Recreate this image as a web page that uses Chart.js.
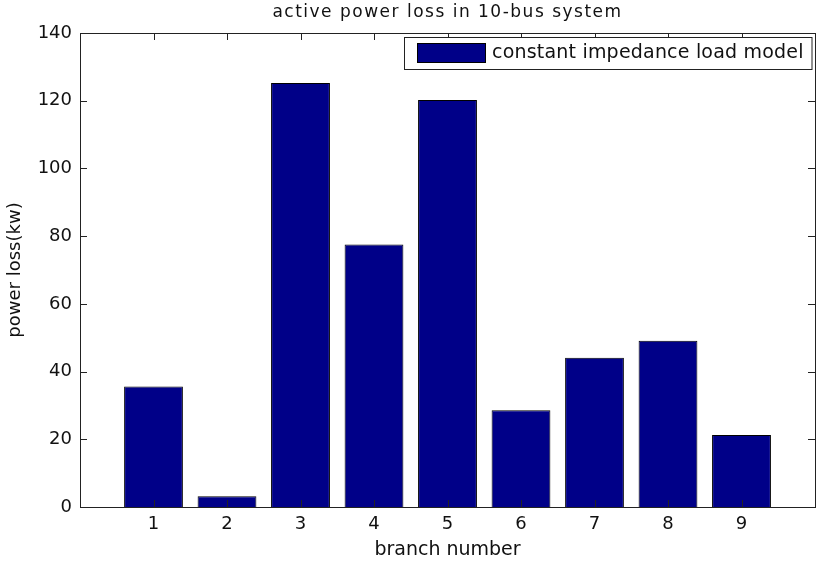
<!DOCTYPE html>
<html>
<head>
<meta charset="utf-8">
<script src="https://cdn.jsdelivr.net/npm/chart.js@4.4.0/dist/chart.umd.min.js"></script>
<style>
html, body { margin: 0; padding: 0; background: #fff; }
#wrap { width: 835px; height: 561px; }
</style>
</head>
<body>
<div id="wrap"><canvas id="chart"></canvas></div>
<script>
// data
const branches = [1, 2, 3, 4, 5, 6, 7, 8, 9];
const powerLoss = [35.6, 3.2, 125.2, 77.5, 120.2, 28.6, 44.1, 49.1, 21.3];
const seriesName = 'constant impedance load model';
const chartTitle = 'active power loss in 10-bus system';
const xTitle = 'branch number';
const yTitle = 'power loss(kw)';

const FONT = 'DejaVu Sans';
const TXT = '#111';

// matlab style box, inward ticks, title and legend
const matlabBox = {
    id: 'matlabBox',
    afterDraw(chart) {
        const ctx = chart.ctx;
        const a = chart.chartArea;
        const xs = chart.scales.x;
        const ys = chart.scales.y;
        ctx.save();
        ctx.strokeStyle = '#222';
        ctx.lineWidth = 1;
        ctx.strokeRect(Math.round(a.left) + 0.5, Math.round(a.top) + 0.5,
            Math.round(a.right - a.left), Math.round(a.bottom - a.top));

        ctx.beginPath();
        branches.forEach(b => {
            const px = Math.round(xs.getPixelForValue(b)) + 0.5;
            ctx.moveTo(px, a.bottom); ctx.lineTo(px, a.bottom - 7);
            ctx.moveTo(px, a.top); ctx.lineTo(px, a.top + 7);
        });
        ys.ticks.forEach(t => {
            const py = Math.round(ys.getPixelForValue(t.value)) + 0.5;
            ctx.moveTo(a.left, py); ctx.lineTo(a.left + 7, py);
            ctx.moveTo(a.right, py); ctx.lineTo(a.right - 7, py);
        });
        ctx.stroke();

        // title
        ctx.fillStyle = TXT;
        ctx.font = '17px "' + FONT + '"';
        ctx.letterSpacing = '1.5px';
        ctx.textAlign = 'center';
        ctx.textBaseline = 'middle';
        ctx.fillText(chartTitle, (a.left + a.right) / 2, a.top - 20);

        // legend
        ctx.font = '19px "' + FONT + '"';
        ctx.letterSpacing = '0.2px';
        const tw = ctx.measureText(seriesName).width;
        const right = Math.round(a.right) - 3.5;
        const top = Math.round(a.top) + 4.5;
        const left = Math.round(right - (tw + 13 + 68 + 7 + 8));
        const ds = chart.data.datasets[0];
        ctx.fillStyle = '#fff';
        ctx.fillRect(left, top, right - left, 32);
        ctx.strokeStyle = '#222';
        ctx.strokeRect(left + 0.5, top, right - left, 32);
        ctx.fillStyle = ds.backgroundColor;
        ctx.fillRect(left + 13.5, top + 6, 68, 19);
        ctx.strokeStyle = '#000';
        ctx.strokeRect(left + 13.5, top + 6, 68, 19);
        ctx.fillStyle = TXT;
        ctx.textAlign = 'left';
        ctx.fillText(seriesName, left + 13 + 68 + 7, top + 16);
        ctx.restore();
    }
};

const ctx = document.getElementById('chart').getContext('2d');
const chart = new Chart(ctx, {
    type: 'bar',
    data: {
        datasets: [{
            label: seriesName,
            data: branches.map((b, i) => ({ x: b, y: powerLoss[i] })),
            backgroundColor: '#000088',
            borderColor: '#000',
            borderWidth: 1,
            barPercentage: 0.8,
            categoryPercentage: 1
        }]
    },
    options: {
        responsive: true,
        maintainAspectRatio: false,
        animation: false,
        layout: { padding: { top: 33, right: 20, bottom: 0, left: 0 } },
        plugins: {
            legend: { display: false },
            title: { display: false },
            tooltip: { enabled: false }
        },
        scales: {
            x: {
                type: 'linear',
                min: 0,
                max: 10,
                offset: false,
                grid: { display: false, drawTicks: false },
                border: { display: false },
                ticks: {
                    stepSize: 1,
                    autoSkip: false,
                    maxRotation: 0,
                    padding: 7,
                    color: TXT,
                    font: { family: FONT, size: 18 },
                    callback: v => (v >= 1 && v <= 9) ? v : ''
                },
                title: {
                    display: true,
                    text: xTitle,
                    color: TXT,
                    font: { family: FONT, size: 19 },
                    padding: { top: 3, bottom: 0 }
                },
                afterFit: s => { s.height = 54; }
            },
            y: {
                min: 0,
                max: 140,
                grid: { display: false, drawTicks: false },
                border: { display: false },
                ticks: {
                    stepSize: 20,
                    padding: 8,
                    color: TXT,
                    font: { family: FONT, size: 18 }
                },
                title: {
                    display: true,
                    text: yTitle,
                    color: TXT,
                    font: { family: FONT, size: 18 },
                    padding: { top: 5, bottom: 0 }
                },
                afterFit: s => { s.width = 80; }
            }
        }
    },
    plugins: [matlabBox]
});
</script>
</body>
</html>
